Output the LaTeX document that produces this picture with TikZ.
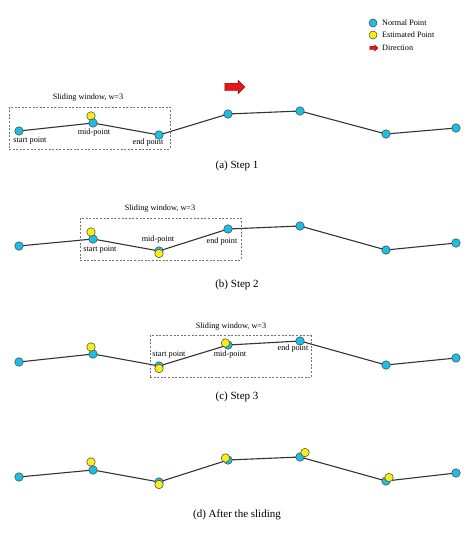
\documentclass[tikz,border=0pt]{standalone}
\usepackage{fontspec}
\setmainfont{Liberation Serif}
\usetikzlibrary{shapes.arrows,backgrounds}
\definecolor{ncyan}{RGB}{30,190,228}
\definecolor{eyel}{RGB}{250,238,20}
\definecolor{dred}{RGB}{228,22,22}
\begin{document}
\begin{tikzpicture}[x=1pt,y=-1pt,
  npt/.style={circle,draw=black!75,fill=ncyan,minimum size=8.5pt,inner sep=0pt,line width=0.5pt},
  ept/.style={circle,draw=black!75,fill=eyel,minimum size=8.5pt,inner sep=0pt,line width=0.5pt},
  seg/.style={draw=black!80,line width=1.1pt},
  win/.style={draw=black!55,dash pattern=on 2pt off 1.6pt,line width=0.6pt,minimum width=161pt,minimum height=42pt,inner sep=0pt},
  lbl/.style={font=\fontsize{8.2}{9}\selectfont,inner sep=0pt},
  captext/.style={font=\fontsize{11}{13}\selectfont,inner sep=0pt},
  dirarrow/.style={single arrow,fill=dred,draw=red!55!black,line width=0.4pt,single arrow head extend=3pt,inner sep=3.5pt,minimum height=20pt},
  smallarrow/.style={single arrow,fill=dred,draw=red!55!black,line width=0.3pt,single arrow head extend=1.5pt,inner sep=1.5pt,minimum height=8pt}]
\useasboundingbox (0,0) rectangle (474,533);

% legend
\node[npt,minimum size=8pt] (lg1) at (373,23) {};
\node[ept,minimum size=8pt] (lg2) at (373,35) {};
\node[smallarrow] (lg3) at (373,48) {};
\node[lbl,anchor=west] (lt1) at (382,23) {Normal Point};
\node[lbl,anchor=west] (lt2) at (382,35) {Estimated Point};
\node[lbl,anchor=west] (lt3) at (382,48) {Direction};

% ---------- (a)
\node[win] (wa) at (89.5,128) {};
\node[lbl] (ta) at (88,98) {Sliding window, w=3};
\node[dirarrow] (arr) at (233,87) {};
\node[ept] (ea2) at (91,116) {};
\foreach \i/\x/\y in {1/19/131,2/93/123,3/159/135,4/228/114,5/300/111,6/386/134,7/456/128}
  \node[npt] (a\i) at (\x,\y) {};
\begin{scope}[on background layer]
\foreach \i [evaluate=\i as \j using int(\i+1)] in {1,...,6}
  \draw[seg] (a\i.center) -- (a\j.center);
\end{scope}
\node[lbl] (sa) at (30,141) {start point};
\node[lbl] (ma) at (94,133) {mid-point};
\node[lbl] (na) at (148,143) {end point};
\node[captext] (ca) at (237,166) {(a) Step 1};

% ---------- (b)
\node[win] (wb) at (160.5,239) {};
\node[lbl] (tb) at (160,209) {Sliding window, w=3};
\foreach \i/\x/\y in {1/19/246,2/93/239,3/159/251,4/228/229,5/300/226,6/386/250,7/456/243}
  \node[npt] (b\i) at (\x,\y) {};
\node[ept] (eb2) at (91,232) {};
\node[ept] (eb3) at (159,253.5) {};
\begin{scope}[on background layer]
\foreach \i [evaluate=\i as \j using int(\i+1)] in {1,...,6}
  \draw[seg] (b\i.center) -- (b\j.center);
\end{scope}
\node[lbl] (sb) at (100,250) {start point};
\node[lbl] (mb) at (158,240) {mid-point};
\node[lbl] (nb) at (222,242) {end point};
\node[captext] (cb) at (237,285) {(b) Step 2};

% ---------- (c)
\node[win] (wc) at (230.5,356.5) {};
\node[lbl] (tc) at (231,327) {Sliding window, w=3};
\foreach \i/\x/\y in {1/19/362,2/93/354,3/159/366,4/228/345,5/300/341,6/386/365,7/456/358}
  \node[npt] (c\i) at (\x,\y) {};
\node[ept] (ec2) at (91,347) {};
\node[ept] (ec3) at (159,368.5) {};
\node[ept] (ec4) at (225.5,343) {};
\begin{scope}[on background layer]
\foreach \i [evaluate=\i as \j using int(\i+1)] in {1,...,6}
  \draw[seg] (c\i.center) -- (c\j.center);
\end{scope}
\node[lbl] (sc) at (169,355) {start point};
\node[lbl] (mc) at (230,355) {mid-point};
\node[lbl] (nc) at (293,349) {end point};
\node[captext] (cc) at (237,397) {(c) Step 3};

% ---------- (d)
\foreach \i/\x/\y in {1/19/477,2/93/470,3/159/482,4/228/460,5/300/457,6/386/481,7/456/473}
  \node[npt] (d\i) at (\x,\y) {};
\node[ept] (ed2) at (91,462) {};
\node[ept] (ed3) at (159,484.5) {};
\node[ept] (ed4) at (225.5,458) {};
\node[ept] (ed5) at (305,452.5) {};
\node[ept] (ed6) at (389,477.5) {};
\begin{scope}[on background layer]
\foreach \i [evaluate=\i as \j using int(\i+1)] in {1,...,6}
  \draw[seg] (d\i.center) -- (d\j.center);
\end{scope}
\node[captext] (cd) at (237,515) {(d) After the sliding};
\end{tikzpicture}
\end{document}
